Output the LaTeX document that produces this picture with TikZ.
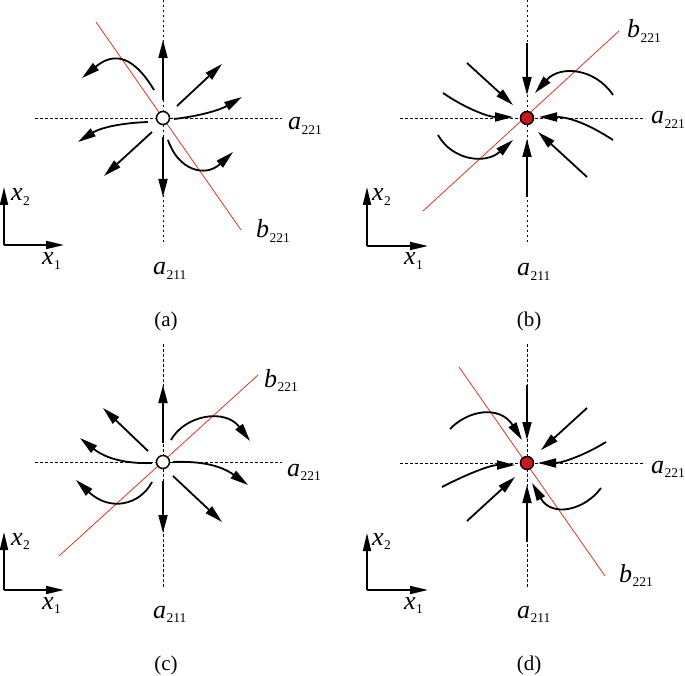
\documentclass[tikz,border=0pt]{standalone}
\usepackage{fontspec}
\setmainfont{Liberation Serif}
\usetikzlibrary{arrows.meta}
\definecolor{lred}{RGB}{225,50,40}
\definecolor{dotred}{RGB}{200,25,30}
\newcommand\vsub[2]{\textit{#1}\kern0.3pt\raisebox{-4.5pt}{\fontsize{13.5}{13.5}\selectfont #2}}
\tikzset{
  flow/.style={line width=1.8pt, -{Triangle[length=18pt,width=9pt]}},
  axisarr/.style={line width=1.7pt, -{Triangle[length=18pt,width=8pt]}},
  guide/.style={line width=0.7pt, dash pattern=on 2.5pt off 2.5pt},
  redline/.style={line width=0.8pt, draw=lred},
  eq/.style={circle, draw, line width=1.5pt, minimum size=13pt, inner sep=0pt},
  lab/.style={inner sep=0pt, font=\fontsize{26}{26}\selectfont, anchor=base west},
  captext/.style={inner sep=0pt, font=\fontsize{21}{21}\selectfont, anchor=base},
}
\begin{document}
\begin{tikzpicture}[x=1pt,y=-1pt]
\useasboundingbox (0,0) rectangle (685,676);

% ---------- (a) ----------
\draw[guide] (35,118) -- (282,118);
\draw[guide] (163,0) -- (163,245);
\draw[redline] (96,22) -- (241,230);
\node[eq, fill=white] (ca) at (163,118) {};
\draw[flow] (163,100) -- (163,40);
\draw[flow] (163,137) -- (163,197);
\draw[flow] (177,106) -- (222,64);
\draw[flow] (152,132) -- (104,176);
\draw[flow] (154,90) .. controls (130,50) and (110,55) .. (82,78);
\draw[flow] (174,119) .. controls (200,116) and (220,110) .. (242,97);
\draw[flow] (148,122) .. controls (120,123) and (100,128) .. (78,142);
\draw[flow] (168,140) .. controls (178,170) and (205,178) .. (233,152);
\coordinate (oa) at (4,245);
\draw[axisarr] (oa) -- (4,187);
\draw[axisarr] (oa) -- (64,245);
\node[lab] (a1) at (288,130) {\vsub{a}{221}};
\node[lab] (a2) at (256,238) {\vsub{b}{221}};
\node[lab] (a3) at (153,275) {\vsub{a}{211}};
\node[lab] (a4) at (11,201) {\vsub{x}{2}};
\node[lab] (a5) at (42,265) {\vsub{x}{1}};
\node[captext] (a6) at (166,326) {(a)};

% ---------- (b) ----------
\draw[guide] (400,118) -- (645,118);
\draw[guide] (527,0) -- (527,245);
\draw[redline] (423,211) -- (619,31);
\node[eq, fill=dotred] (cb) at (527,118) {};
\draw[flow] (527,43) -- (527,95);
\draw[flow] (527,197) -- (527,139);
\draw[flow] (467,63) -- (513,105);
\draw[flow] (587,177) -- (538,132);
\draw[flow] (443,93) .. controls (465,108) and (488,117) .. (513,117);
\draw[flow] (613,140) .. controls (590,125) and (570,117) .. (539,117);
\draw[flow] (613,95) .. controls (595,68) and (560,65) .. (535,93);
\draw[flow] (438,135) .. controls (452,160) and (485,165) .. (513,140);
\coordinate (ob) at (367,246);
\draw[axisarr] (ob) -- (367,187);
\draw[axisarr] (ob) -- (428,246);
\node[lab] (b1) at (651,124) {\vsub{a}{221}};
\node[lab] (b2) at (627,38) {\vsub{b}{221}};
\node[lab] (b3) at (517,276) {\vsub{a}{211}};
\node[lab] (b4) at (372,201) {\vsub{x}{2}};
\node[lab] (b5) at (404,265) {\vsub{x}{1}};
\node[captext] (b6) at (529,326) {(b)};

% ---------- (c) ----------
\draw[guide] (35,462) -- (282,462);
\draw[guide] (163,344) -- (163,588);
\draw[redline] (59,556) -- (258,375);
\node[eq, fill=white] (cc) at (163,462) {};
\draw[flow] (163,443) -- (163,385);
\draw[flow] (163,481) -- (163,533);
\draw[flow] (148,451) -- (103,408);
\draw[flow] (173,476) -- (222,522);
\draw[flow] (171,440) .. controls (185,415) and (225,408) .. (250,441);
\draw[flow] (173,462) .. controls (200,461) and (220,465) .. (248,485);
\draw[flow] (152,463) .. controls (125,464) and (105,458) .. (80,438);
\draw[flow] (152,482) .. controls (140,505) and (110,512) .. (76,480);
\coordinate (oc) at (4,590);
\draw[axisarr] (oc) -- (4,532);
\draw[axisarr] (oc) -- (64,590);
\node[lab] (c1) at (287,476) {\vsub{a}{221}};
\node[lab] (c2) at (264,387) {\vsub{b}{221}};
\node[lab] (c3) at (153,618) {\vsub{a}{211}};
\node[lab] (c4) at (11,545) {\vsub{x}{2}};
\node[lab] (c5) at (42,609) {\vsub{x}{1}};
\node[captext] (c6) at (166,670) {(c)};

% ---------- (d) ----------
\draw[guide] (400,463) -- (645,463);
\draw[guide] (527,344) -- (527,588);
\draw[redline] (459,367) -- (605,576);
\node[eq, fill=dotred] (cd) at (527,463) {};
\draw[flow] (527,385) -- (527,440);
\draw[flow] (527,542) -- (527,485);
\draw[flow] (587,408) -- (541,450);
\draw[flow] (467,521) -- (515,477);
\draw[flow] (450,429) .. controls (468,410) and (500,405) .. (522,440);
\draw[flow] (606,442) .. controls (585,455) and (562,463) .. (538,463);
\draw[flow] (442,487) .. controls (465,475) and (490,465) .. (515,465);
\draw[flow] (601,488) .. controls (585,510) and (552,518) .. (532,483);
\coordinate (od) at (367,590);
\draw[axisarr] (od) -- (367,533);
\draw[axisarr] (od) -- (428,590);
\node[lab] (d1) at (651,473) {\vsub{a}{221}};
\node[lab] (d2) at (619,582) {\vsub{b}{221}};
\node[lab] (d3) at (517,618) {\vsub{a}{211}};
\node[lab] (d4) at (372,545) {\vsub{x}{2}};
\node[lab] (d5) at (404,609) {\vsub{x}{1}};
\node[captext] (d6) at (529,670) {(d)};
\end{tikzpicture}
\end{document}
